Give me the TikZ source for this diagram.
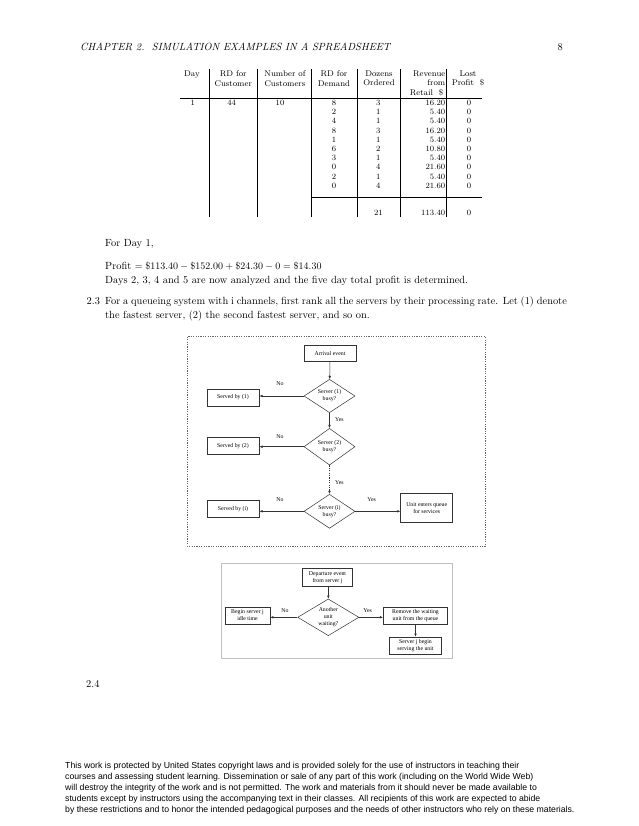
\documentclass[tikz,border=0pt]{standalone}
\usepackage{fontspec}
\usetikzlibrary{shapes.geometric,arrows.meta}
\newfontfamily\fcfont{Liberation Serif}
\newfontfamily\ftfont{Liberation Sans}
\begin{document}
\begin{tikzpicture}[x=1pt,y=-1pt,
  body/.style={font=\fontsize{10.4}{12.5}\selectfont, inner sep=0pt, anchor=base west},
  tb/.style={font=\fontsize{8.1}{9.6}\selectfont, inner sep=0pt, anchor=base},
  th/.style={font=\fontsize{8.3}{9.6}\selectfont, inner sep=0pt, anchor=north, align=center},
  rule/.style={line width=0.5pt},
  fbox/.style={draw=black!80, line width=0.5pt, font=\fcfont\fontsize{5.8}{7}\selectfont, align=center, inner sep=1pt},
  dia/.style={diamond, draw=black!80, line width=0.5pt, font=\fcfont\fontsize{5.8}{7}\selectfont, align=center, inner sep=0pt, shape aspect=1.5},
  arr/.style={-{Latex[length=3.2pt,width=2.6pt]}, line width=0.5pt, draw=black!80},
  lbl/.style={font=\fcfont\fontsize{5.8}{7}\selectfont, inner sep=0pt},
  foot/.style={font=\ftfont\fontsize{8.7}{10}\selectfont, inner sep=0pt, anchor=base west}
]
\useasboundingbox[fill=white] (0,0) rectangle (638,826);

% running head
\node[body] (head) at (80,50.5) {\itshape CHAPTER 2.\ \ SIMULATION EXAMPLES IN A SPREADSHEET};
\node[body, anchor=base east] (pg) at (563,50.5) {8};

% ---------- table ----------
\foreach \x [count=\i] in {209,257.5,311.5,357.5,400,446.5}
  \draw[rule] (\x,69.3) coordinate (vt\i) -- (\x,216.7) coordinate (vb\i);
\coordinate (hl) at (180,98.5);
\coordinate (hr) at (482,98.5);
\draw[rule] (hl) -- (hr);
\coordinate (tl) at (311.5,197.7);
\coordinate (tr) at (482,197.7);
\draw[rule] (tl) -- (tr);

\node[th] (h1) at (192,70.5) {Day};
\node[th] (h2) at (233.3,70.5) {RD for\\Customer};
\node[th] (h3) at (285,70.5) {Number of\\Customers};
\node[th] (h4) at (334,70.5) {RD for\\Demand};
\node[th] (h5) at (379,70.5) {Dozens\\Ordered};
\node[th, anchor=north east, align=right] (h6) at (445.5,70.5) {Revenue\\from\\Retail\ \ \$\hspace*{2pt}};
\node[th] (h7) at (468,70.5) {Lost\\Profit\ \ \$};

\node[tb] (d1) at (192.7,105.6) {1};
\node[tb] (c1) at (231.7,105.6) {44};
\node[tb] (n1) at (280,105.6) {10};
\foreach \rd/\dz/\rv [count=\k from 0] in {8/3/16.20,2/1/5.40,4/1/5.40,8/3/16.20,1/1/5.40,6/2/10.80,3/1/5.40,0/4/21.60,2/1/5.40,0/4/21.60}{
  \node[tb] (rd\k) at (334,105.6+9.2*\k) {\rd};
  \node[tb] (dz\k) at (378.3,105.6+9.2*\k) {\dz};
  \node[tb, anchor=base east] (rv\k) at (445.3,105.6+9.2*\k) {\rv};
  \node[tb] (lp\k) at (469,105.6+9.2*\k) {0};
}
\node[tb] (tdz) at (378.3,215.2) {21};
\node[tb, anchor=base east] (trv) at (445.3,215.2) {113.40};
\node[tb] (tlp) at (469,215.2) {0};

% ---------- body text ----------
\node[body] (t1) at (105,246.5) {For Day 1,};
\node[body] (t2) at (105,269.5) {Profit $= \$113.40 - \$152.00 + \$24.30 - 0 = \$14.30$};
\node[body] (t3) at (105,283.5) {Days 2, 3, 4 and 5 are now analyzed and the five day total profit is determined.};
\node[body] (t4n) at (86.5,304.5) {2.3};
\node[body] (t4) at (105,304.5) {\makebox[461.7pt][s]{For a queueing system with i channels, first rank all the servers by their processing rate. Let (1) denote}};
\node[body] (t5) at (105,318.5) {the fastest server, (2) the second fastest server, and so on.};

% ---------- flowchart 1 ----------
\coordinate (f1a) at (187.3,336.7);
\coordinate (f1b) at (485.5,546);
\draw[black!60, line width=0.5pt, dash pattern=on 1.2pt off 1.2pt] (f1a) rectangle (f1b);

\node[fbox, minimum width=52pt, minimum height=16.7pt] (arr) at (330,353.3) {Arrival event};
\node[dia, minimum width=51pt, minimum height=33.4pt] (s1) at (329.5,396) {Server (1)\\busy?};
\node[fbox, minimum width=52.3pt, minimum height=17.3pt] (b1) at (233,397.5) {Served by (1)};
\node[dia, minimum width=51pt, minimum height=36.7pt] (s2) at (329.5,446.7) {Server (2)\\busy?};
\node[fbox, minimum width=52.3pt, minimum height=17.3pt] (b2) at (233,446) {Served by (2)};
\node[dia, minimum width=51pt, minimum height=34pt] (s3) at (329.5,511.3) {Server (i)\\busy?};
\node[fbox, minimum width=52.3pt, minimum height=17.3pt] (b3) at (233,509) {Served by (i)};
\node[fbox, minimum width=52pt, minimum height=29pt] (uq) at (426.7,507.8) {Unit enters queue\\for services};

\draw[arr] (arr) -- (s1);
\draw[arr] (s1.west) -- (s1.west -| b1.east);
\draw[arr] (s1) -- (s2);
\draw[arr] (s2.west) -- (s2.west -| b2.east);
\draw[arr, dash pattern=on 1.2pt off 1.2pt] (s2) -- (s3);
\draw[arr] (s3.west) -- (s3.west -| b3.east);
\draw[arr] (s3.east) -- (s3.east -| uq.west);

\node[lbl] (no1) at (280,383.3) {No};
\node[lbl] (no2) at (280,436.7) {No};
\node[lbl] (no3) at (280,499.3) {No};
\node[lbl, anchor=west] (y1) at (335,419.3) {Yes};
\node[lbl, anchor=west] (y2) at (335,482.3) {Yes};
\node[lbl] (y3) at (371.7,499.3) {Yes};

% ---------- flowchart 2 ----------
\coordinate (f2a) at (221,563);
\coordinate (f2b) at (452.3,658.7);
\draw[black!25, line width=0.6pt] (f2a) rectangle (f2b);

\node[fbox, minimum width=50.4pt, minimum height=17.6pt] (dep) at (327.5,577.5) {Departure event\\from server j};
\node[dia, minimum width=61.3pt, minimum height=36.7pt] (aw) at (328.3,617.3) {Another\\unit\\waiting?};
\node[fbox, minimum width=45pt, minimum height=17pt] (bsj) at (247.5,615.5) {Begin server j\\idle time};
\node[fbox, minimum width=64.4pt, minimum height=17.4pt] (rem) at (415.5,616) {Remove the waiting\\unit from the queue};
\node[fbox, minimum width=52.4pt, minimum height=17pt] (sjb) at (415.5,645.5) {Server j begin\\serving the unit};

\draw[arr] (dep.south -| aw.north) -- (aw.north);
\draw[arr] (aw.west) -- (aw.west -| bsj.east);
\draw[arr] (aw.east) -- (aw.east -| rem.west);
\draw[arr] (rem) -- (sjb);

\node[lbl] (no4) at (285,610.3) {No};
\node[lbl] (y4) at (367.7,610.3) {Yes};

\node[body] (t6) at (86,687.5) {2.4};

% ---------- footer ----------
\node[foot] (fl1) at (65,768) {This work is protected by United States copyright laws and is provided solely for the use of instructors in teaching their};
\node[foot] (fl2) at (65,779) {courses and assessing student learning. Dissemination or sale of any part of this work (including on the World Wide Web)};
\node[foot] (fl3) at (65,790) {will destroy the integrity of the work and is not permitted. The work and materials from it should never be made available to};
\node[foot] (fl4) at (65,801) {students except by instructors using the accompanying text in their classes. All recipients of this work are expected to abide};
\node[foot] (fl5) at (65,812) {by these restrictions and to honor the intended pedagogical purposes and the needs of other instructors who rely on these materials.};
\end{tikzpicture}
\end{document}
